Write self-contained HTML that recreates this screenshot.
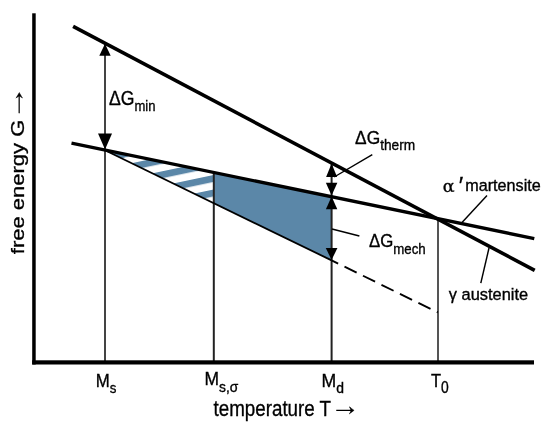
<!DOCTYPE html>
<html>
<head>
<meta charset="utf-8">
<style>
html,body{margin:0;padding:0;background:#fff;}
body{width:550px;height:430px;overflow:hidden;}
svg{display:block;filter:blur(0.3px);}
text{font-family:"Liberation Sans",Arial,sans-serif;fill:#000;stroke:#000;stroke-width:0.35px;}
.serif{font-family:"DejaVu Serif","Liberation Serif",serif;}
.arr{font-family:"WenQuanYi Zen Hei","Liberation Sans",sans-serif;}
</style>
</head>
<body>
<svg width="550" height="430" viewBox="0 0 550 430">
<defs>
<pattern id="stripes" patternUnits="userSpaceOnUse" width="300" height="14.5" patternTransform="translate(0,219.85) skewY(-11.86)">
<rect x="0" y="0" width="300" height="14.5" fill="#fff"/>
<rect x="0" y="0" width="300" height="7" fill="#5b87a8"/>
</pattern>
</defs>
<rect width="550" height="430" fill="#fff"/>

<!-- striped triangle -->
<polygon points="105,150.1 213.8,172.48 213.8,203.16" fill="url(#stripes)"/>
<polygon points="105,150.4 130,155.5 121.5,158.4" fill="#5b87a8"/>
<!-- blue region -->
<polygon points="213.8,172.48 331.6,196.8 331.6,260.4 213.8,203.16" fill="#5b87a8"/>

<!-- vertical guide lines -->
<line x1="105" y1="44" x2="105" y2="361" stroke="#444" stroke-width="2"/>
<line x1="213.8" y1="172" x2="213.8" y2="361" stroke="#222" stroke-width="2"/>
<line x1="331.6" y1="163" x2="331.6" y2="361" stroke="#222" stroke-width="2"/>
<line x1="438" y1="218" x2="438" y2="361" stroke="#555" stroke-width="2"/>

<!-- lower boundary + dashed extension -->
<line x1="105" y1="150.3" x2="331.6" y2="260.4" stroke="#000" stroke-width="1.8"/>
<line x1="331.6" y1="260.4" x2="437.8" y2="312.4" stroke="#000" stroke-width="1.9" stroke-dasharray="13.5 7.07" stroke-dashoffset="6.2"/>

<!-- main lines -->
<line x1="73.1" y1="26.4" x2="534.7" y2="270.3" stroke="#000" stroke-width="3.6"/>
<line x1="71.5" y1="143.1" x2="534.3" y2="238.6" stroke="#000" stroke-width="3.4"/>

<!-- axes -->
<rect x="32.2" y="13.3" width="3.5" height="351.2" fill="#000"/>
<rect x="32.2" y="360.3" width="501.8" height="4.2" fill="#000"/>

<!-- arrows -->
<polygon points="105,43.7 99.3,55.8 110.7,55.8" fill="#000"/>
<polygon points="105,149.4 98,133.5 112,133.5" fill="#000"/>
<polygon points="331.6,163.4 326.1,177 337.1,177" fill="#000"/>
<polygon points="331.6,195.5 325.85,182.7 337.35,182.7" fill="#000"/>
<polygon points="331.6,196.5 325.9,209.2 337.3,209.2" fill="#000"/>
<polygon points="331.6,259.8 325.75,248.1 337.45,248.1" fill="#000"/>

<!-- pointers -->
<line x1="372.3" y1="154.6" x2="334.2" y2="177" stroke="#000" stroke-width="1.45"/>
<line x1="332" y1="229" x2="359.4" y2="236" stroke="#000" stroke-width="1.45"/>
<line x1="487" y1="195.6" x2="462" y2="222.4" stroke="#000" stroke-width="1.45"/>
<line x1="489" y1="248" x2="480.8" y2="283.2" stroke="#000" stroke-width="1.45"/>

<!-- labels -->
<text transform="translate(108.96,104.8) scale(0.873,1)" font-size="20.2">ΔG<tspan font-size="15" dy="6.5">min</tspan></text>
<text transform="translate(355.04,143.9) scale(0.914,1)" font-size="19">ΔG<tspan font-size="15" dy="6.3">therm</tspan></text>
<text transform="translate(368.96,247.4) scale(0.886,1)" font-size="19">ΔG<tspan font-size="15" dy="6.2">mech</tspan></text>
<text class="serif" x="442.8" y="191.85" font-size="17.5">α</text>
<text x="458.8" y="194" font-size="24">′</text>
<text transform="translate(465.22,191.4) scale(0.981,1)" font-size="16.5">martensite</text>
<text transform="translate(448.75,300) scale(0.983,1)" font-size="16.7">γ austenite</text>

<text transform="translate(95.7,386.6) scale(0.885,1)" font-size="19">M<tspan font-size="15" dy="6.6">s</tspan></text>
<text transform="translate(204.52,385.2) scale(0.92,1)" font-size="19">M<tspan font-size="15" dy="6.5">s,σ</tspan></text>
<text transform="translate(321.5,386.8) scale(0.929,1)" font-size="19">M<tspan font-size="15" dy="5.8">d</tspan></text>
<text transform="translate(430.97,386.5) scale(0.867,1)" font-size="19">T<tspan font-size="16" dy="6.2">0</tspan></text>

<text transform="translate(213.59,416) scale(0.834,1)" font-size="22.5">temperature T</text>
<text class="arr" transform="translate(335,419.4) scale(0.854,1)" font-size="24">→</text>
<text transform="translate(24.3,254.15) scale(0.84,1) rotate(-90)" font-size="22">free energy G</text>
<text class="arr" transform="translate(27.15,114.85) scale(0.9,1) rotate(-90)" font-size="24">→</text>
</svg>
</body>
</html>
